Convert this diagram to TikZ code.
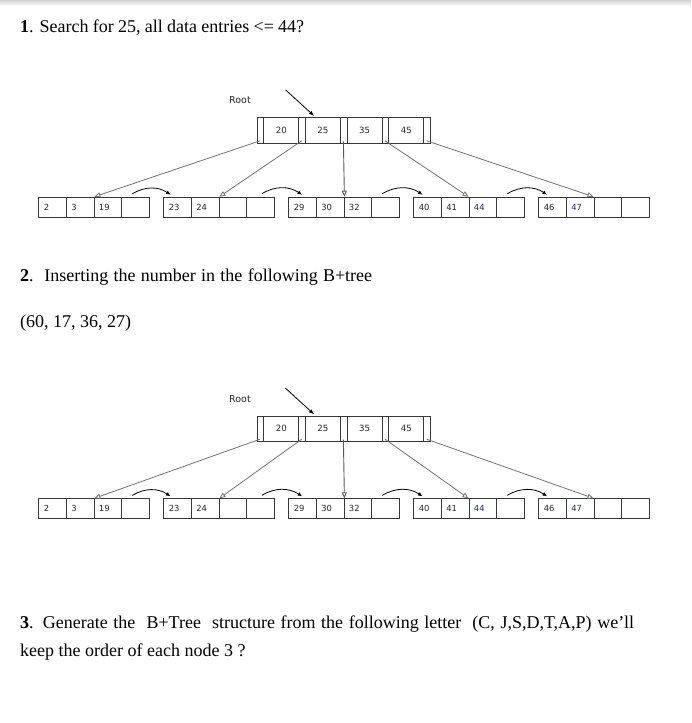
\documentclass[tikz,border=0pt]{standalone}
\usepackage{fontspec}
\setmainfont{Liberation Serif}
\newfontfamily\numfont{DejaVu Sans}
\usetikzlibrary{arrows.meta}
\definecolor{boxline}{gray}{0.22}
\definecolor{ptrline}{gray}{0.45}
\definecolor{vertline}{gray}{0.35}
\definecolor{numblue}{RGB}{25,45,110}
\definecolor{numgray}{gray}{0.15}
\tikzset{
  cell/.style={draw=boxline, line width=0.9pt, minimum height=20pt, inner ysep=0pt,
    inner xsep=5pt, text width=17.6pt, align=left, anchor=north west,
    font=\numfont\fontsize{8.4}{9}\selectfont, text=numgray},
  rootbox/.style={draw=boxline, line width=0.9pt, minimum width=173.3pt, minimum height=25.4pt,
    inner sep=0pt, anchor=north west},
  keybox/.style={draw=boxline, line width=0.9pt, minimum width=35pt, minimum height=25.4pt,
    inner sep=0pt, anchor=north west, font=\numfont\fontsize{8.6}{9}\selectfont, text=numgray},
  rootlabel/.style={font=\numfont\fontsize{9.5}{10}\selectfont, inner sep=0pt, text=numgray},
  treeptr/.style={draw=ptrline, line width=0.8pt, -{Triangle[open, length=6pt, width=5pt]}},
  downptr/.style={draw=vertline, line width=0.9pt, -{Triangle[open, length=6pt, width=5pt]}},
  rootptr/.style={draw=black, line width=0.8pt, -{Latex[length=5pt, width=4pt]}},
  nextptr/.style={draw=black, line width=0.8pt, -{Latex[length=4.5pt, width=4pt]}},
  qtext/.style={anchor=base west, inner sep=0pt, font=\fontsize{18}{22}\selectfont},
}
% leaf: prefix, x, y, four texts
\newcommand\bpleaf[7]{%
  \node[cell] (#1c1) at (#2, #3) {#4};
  \node[cell] (#1c2) at (#2+27.6, #3) {#5};
  \node[cell] (#1c3) at (#2+55.2, #3) {#6};
  \node[cell] (#1c4) at (#2+82.8, #3) {#7};
}
% tree: prefix, root top y, leaf top y
\newcommand\bptree[3]{%
  \node[rootlabel] (#1lab) at (240, #2-17) {Root};
  \node[rootbox] (#1R) at (256.7, #2) {};
  \node[keybox] (#1K1) at (263.3, #2) {20};
  \node[keybox] (#1K2) at (305.0, #2) {25};
  \node[keybox] (#1K3) at (346.7, #2) {35};
  \node[keybox] (#1K4) at (388.3, #2) {45};
  \coordinate (#1p0) at (260.0, #2+23.5);
  \coordinate (#1p1) at (301.7, #2+23.5);
  \coordinate (#1p2) at (343.4, #2+24);
  \coordinate (#1p3) at (385.0, #2+23.5);
  \coordinate (#1p4) at (426.7, #2+23.5);
  \coordinate (#1from) at (285.5, #2-27.5);
  \bpleaf{#1A}{38.3}{#3}{2}{3}{19}{}
  \bpleaf{#1B}{163.3}{#3}{23}{24}{}{}
  \bpleaf{#1C}{288.3}{#3}{29}{30}{32}{}
  \bpleaf{#1D}{413.3}{#3}{40}{41}{\textcolor{numblue}{44}}{}
  \bpleaf{#1E}{538.3}{#3}{46}{\textcolor{numblue}{47}}{}{}
  \draw[rootptr] (#1from) -- ([xshift=9pt,yshift=1.5pt]#1K2.north west);
  \draw[treeptr] (#1p0) -- (#1Ac2.north east);
  \draw[treeptr] (#1p1) -- (#1Bc2.north east);
  \draw[downptr] (#1p2) -- (#1Cc2.north east);
  \draw[treeptr] (#1p3) -- (#1Dc3.north west);
  \draw[treeptr] (#1p4) -- (#1Ec3.north west);
  \draw[nextptr] ([xshift=-3pt,yshift=3pt]#1Ac4.north) to[bend left=32] ([xshift=-7pt,yshift=2pt]#1Bc1.north);
  \draw[nextptr] ([xshift=1.5pt,yshift=3pt]#1Bc4.north) to[bend left=32] ([xshift=-0.5pt,yshift=2pt]#1Cc1.north);
  \draw[nextptr] ([xshift=-3pt,yshift=3pt]#1Cc4.north) to[bend left=32] ([xshift=-5pt,yshift=2pt]#1Dc1.north);
  \draw[nextptr] ([xshift=-3pt,yshift=3pt]#1Dc4.north) to[bend left=32] ([xshift=-5.5pt,yshift=2pt]#1Ec1.north);
}
\begin{document}
\begin{tikzpicture}[x=1pt, y=-1pt]
  \useasboundingbox (0,0) rectangle (691,723);
  \fill[white] (0,0) rectangle (691,723);
  \shade[top color=gray!35, bottom color=white] (0,0) rectangle (691,6);

  \node[qtext] (q1) at (20, 32.3) {\makebox[284pt][s]{\textbf{1}. Search for 25, all data entries <= 44?}};
  \bptree{t}{117.3}{196.7}

  \node[qtext] (q2) at (20, 281.7) {\makebox[352pt][s]{\textbf{2}.\ \ Inserting the number in the following B+tree}};
  \node[qtext] (q2b) at (20, 327.3) {(60, 17, 36, 27)};
  \bptree{u}{415.7}{498.3}

  \node[qtext] (q3) at (20, 628.3) {\makebox[614pt][s]{\textbf{3}. Generate the\ \ B+Tree\ \ structure from the following letter\ \ (C, J,S,D,T,A,P) we’ll}};
  \node[qtext] (q3b) at (20, 656.7) {keep the order of each node 3 ?};
\end{tikzpicture}
\end{document}
